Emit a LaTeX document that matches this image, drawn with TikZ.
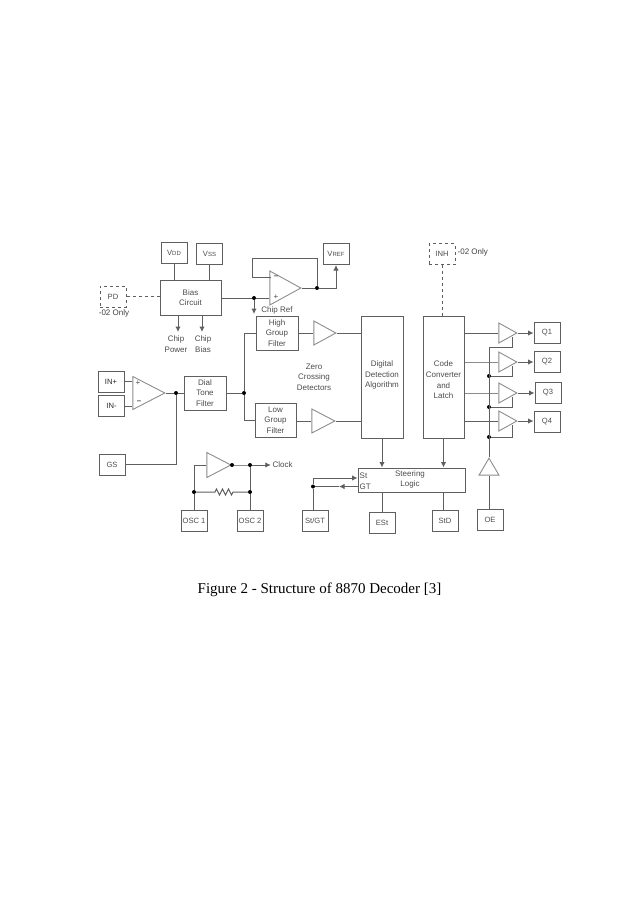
\documentclass[tikz,border=0pt]{standalone}
\usepackage{fontspec}
\setmainfont{Liberation Sans}
\newfontfamily\capfont{Liberation Serif}
\usetikzlibrary{arrows.meta,calc,shapes.geometric}
\definecolor{wiregray}{RGB}{95,95,95}
\definecolor{faintgray}{RGB}{140,140,140}
\definecolor{textgray}{RGB}{75,75,75}
\newcommand{\smalltxt}[1]{{\fontsize{6}{6}\selectfont #1}}

\begin{document}
\begin{tikzpicture}[
      x=1pt, y=-1pt,
      lbl/.style={inner sep=1.5pt, align=center, text=textgray, font=\fontsize{8}{10.7}\selectfont},
      blk/.style={lbl, draw=wiregray, line width=1pt, minimum width=#1, inner sep=0pt},
      pinbox/.style={blk=26pt, minimum height=21pt, font=\fontsize{7.6}{9}\selectfont},
      dashbox/.style={pinbox, dashed},
      amp/.style n args={2}{isosceles triangle, isosceles triangle stretches, draw=faintgray, line width=0.9pt, inner sep=0pt, minimum width=#2, minimum height=#1, anchor=apex},
      wire/.style={draw=wiregray, line width=1pt},
      thinwire/.style={draw=faintgray, line width=0.8pt},
      dashwire/.style={wire, dashed},
      arrowwire/.style={wire, -{Latex[length=5.5pt,width=5.5pt]}},
      jdot/.style={circle, fill=black, inner sep=0pt, minimum size=4pt}
    ]
      \useasboundingbox (0,0) rectangle (638,902);

      % Bias and reference
      \node[pinbox] (vdd) at (174,252.5) {V\smalltxt{DD}};
      \node[pinbox] (vss) at (209.5,253.5) {V\smalltxt{SS}};
      \node[blk=61pt, minimum height=35pt] (bias) at (190.5,297.5) {Bias\\Circuit};
      \node[dashbox] (pd) at (113,296.5) {PD};
      \node[lbl, text=black!75] (pdnote) at (114,313) {-02 Only};
      \node[pinbox] (vref) at (336,254) {V\smalltxt{REF}};
      \node[amp={31pt}{34pt}] (refamp) at (302,288) {};
      \node[lbl, font=\bfseries\fontsize{8}{10}\selectfont] (refminus) at (276,277) {--};
      \node[lbl] (refplus) at (276,297.5) {+};
      \node[lbl] (chipref) at (277,310) {Chip Ref};
      \node[lbl] (chippower) at (176,344) {Chip\\Power};
      \node[lbl] (chipbias) at (203,344) {Chip\\Bias};
      \node[jdot] (jbias) at (254,298) {};
      \node[jdot] (jref) at (317,288) {};
      \coordinate (fbtop) at (252,258);
      \coordinate (fbin) at (271,277);
      \coordinate (chiptip) at (254,314);
      \coordinate (powertip) at (178,332);
      \coordinate (biastip) at (202,332);

      \draw[wire] (vdd.south) -- (vdd.south |- bias.north);
      \draw[wire] (vss.south) -- (vss.south |- bias.north);
      \draw[dashwire] (pd.east) -- (pd.east -| bias.west);
      \draw[wire] (bias.east |- jbias) -- (jbias) -- (jbias -| refamp.lower side);
      \draw[arrowwire] (jbias) -- (chiptip);
      \draw[arrowwire] (powertip |- bias.south) -- (powertip);
      \draw[arrowwire] (biastip |- bias.south) -- (biastip);
      \draw[wire] (fbin) -| (fbtop) -| (jref);
      \draw[wire] (refamp.apex) -- (jref);
      \draw[arrowwire] (jref) -| (vref.south);

      % Input stage
      \node[pinbox, text=black!85] (inp) at (111,381.5) {IN+};
      \node[pinbox, text=black!85] (inm) at (111.5,406) {IN-};
      \node[pinbox] (gs) at (112,464.5) {GS};
      \node[amp={32pt}{33pt}] (inamp) at (166,393) {};
      \node[lbl] (inplus) at (138,383) {+};
      \node[lbl, font=\bfseries\fontsize{8}{10}\selectfont] (inminus) at (139,402.5) {--};
      \node[blk=42pt, minimum height=34pt] (dial) at (205,393) {Dial\\Tone\\Filter};
      \node[jdot] (jin) at (176,393) {};
      \node[jdot] (jdial) at (244,393) {};

      \draw[wire] (inp.east) -- (inp.east -| inamp.lower side);
      \draw[wire] (inm.east) -- (inm.east -| inamp.lower side);
      \draw[wire] (inamp.apex) -- (jin) -- (dial.west);
      \draw[wire] (gs.east) -| (jin);
      \draw[wire] (dial.east) -- (jdial);

      % Filters and detectors
      \node[blk=42pt, minimum height=34pt] (high) at (277,333) {High\\Group\\Filter};
      \node[blk=41pt, minimum height=34pt] (low) at (275.5,420) {Low\\Group\\Filter};
      \node[amp={22pt}{24pt}] (highamp) at (337,333) {};
      \node[amp={23pt}{24pt}] (lowamp) at (336,421) {};
      \node[lbl] (zero) at (314,377) {Zero\\Crossing\\Detectors};
      \node[blk=42pt, minimum height=122pt] (dig) at (382,377) {};
      \node[lbl] (digtxt) at (382,375) {Digital\\Detection\\Algorithm};
      \node[blk=41pt, minimum height=122pt] (code) at (443.5,377) {};
      \node[lbl] (codetxt) at (443.5,380) {Code\\Converter\\and\\Latch};

      \draw[wire] (jdial) |- (high.west);
      \draw[wire] (jdial) |- (low.west);
      \draw[wire] (high.east) -- (highamp.lower side);
      \draw[wire] (low.east |- lowamp.lower side) -- (lowamp.lower side);
      \draw[wire] (highamp.apex) -- (highamp.apex -| dig.west);
      \draw[wire] (lowamp.apex) -- (lowamp.apex -| dig.west);

      % Outputs
      \node[dashbox] (inh) at (442,254) {INH};
      \node[lbl, text=black!75, anchor=west] (inhnote) at (456,252) {-02 Only};
      \node[amp={18pt}{20pt}] (q1amp) at (518,333) {};
      \node[amp={18pt}{20pt}] (q2amp) at (518,362) {};
      \node[amp={18pt}{20pt}] (q3amp) at (518,393) {};
      \node[amp={18pt}{20pt}] (q4amp) at (518,421) {};
      \node[pinbox] (q1) at (547,332.5) {Q1};
      \node[pinbox] (q2) at (547,361.5) {Q2};
      \node[pinbox] (q3) at (548,393) {Q3};
      \node[pinbox] (q4) at (547,421.5) {Q4};
      \node[pinbox] (oe) at (490,519.5) {OE};
      \node[amp={17pt}{20pt}, shape border rotate=90] (oeamp) at (489,457) {};
      \node[jdot] (jq2) at (489,376) {};
      \node[jdot] (jq3) at (489,407) {};
      \node[jdot] (jq4) at (489,437) {};
      \coordinate (busq1) at (489,347);
      \coordinate (enq1) at (512,336.5);
      \coordinate (enq2) at (512,365.5);
      \coordinate (enq3) at (512,396.5);
      \coordinate (enq4) at (512,424.5);

      \draw[dashwire] (inh.south) -- (inh.south |- code.north);
      \draw[wire] (q1amp.lower side -| code.east) -- (q1amp.lower side);
      \draw[thinwire] (q2amp.lower side -| code.east) -- (q2amp.lower side);
      \draw[thinwire] (q3amp.lower side -| code.east) -- (q3amp.lower side);
      \draw[wire] (q4amp.lower side -| code.east) -- (q4amp.lower side);
      \draw[arrowwire] (q1amp.apex) -- (q1amp.apex -| q1.west);
      \draw[arrowwire] (q2amp.apex) -- (q2amp.apex -| q2.west);
      \draw[arrowwire] (q3amp.apex) -- (q3amp.apex -| q3.west);
      \draw[arrowwire] (q4amp.apex) -- (q4amp.apex -| q4.west);
      \draw[wire] (oeamp.apex) -- (busq1) -| (enq1);
      \draw[wire] (jq2) -| (enq2);
      \draw[wire] (jq3) -| (enq3);
      \draw[wire] (jq4) -| (enq4);
      \draw[wire] (oe.north -| oeamp.lower side) -- (oeamp.lower side);

      % Oscillator
      \node[amp={24pt}{25pt}] (oscamp) at (232,465) {};
      \node[pinbox] (osc1) at (194,520.5) {OSC 1};
      \node[pinbox] (osc2) at (250,520.5) {OSC 2};
      \node[lbl] (clock) at (282.5,465) {Clock};
      \node[jdot] (jamp) at (232,465) {};
      \node[jdot] (jclk) at (250,465) {};
      \node[jdot] (jres) at (194,492) {};
      \node[jdot] (jfb) at (250,492) {};

      \draw[wire] (oscamp.lower side) -- (oscamp.lower side -| jres) -- (jres) -- (osc1.north);
      \draw[thinwire] (jamp) -- (jclk);
      \draw[arrowwire] (jclk) -- (clock.west);
      \draw[wire] (jclk) -- (jfb) -- (osc2.north);
      \draw[wire] (jres) -- ++(21,0) -- ++(1.5,-3) -- ++(3,6) -- ++(3,-6) -- ++(3,6) -- ++(3,-6) -- ++(3,6) -- ++(1.5,-3) -- (jfb);

      % Steering
      \node[blk=107pt, minimum height=24pt] (steer) at (411.5,480) {};
      \node[lbl] (steertxt) at (410,479.5) {Steering\\Logic};
      \node[lbl, anchor=west, inner sep=0pt] (sttxt) at (359.5,476) {St};
      \node[lbl, anchor=west, inner sep=0pt] (gttxt) at (359.5,487) {GT};
      \node[pinbox] (sgt) at (315,520.5) {St/GT};
      \node[pinbox] (est) at (382,522.5) {ESt};
      \node[pinbox] (std) at (445,521) {StD};
      \node[jdot] (jsgt) at (313,486.5) {};
      \coordinate (gtmid) at (339,486.5);
      \coordinate (sttop) at (313,478);

      \draw[arrowwire] (dig.south) -- (dig.south |- steer.north);
      \draw[arrowwire] (code.south) -- (code.south |- steer.north);
      \draw[wire] (est.north) -- (est.north |- steer.south);
      \draw[wire] (code.south |- steer.south) -- (code.south |- std.north);
      \draw[wire] (jsgt |- sgt.north) -- (jsgt) -- (sttop);
      \draw[arrowwire] (sttop) -- (sttop -| steer.west);
      \draw[arrowwire] (jsgt -| steer.west) -- (gtmid);
      \draw[wire] (gtmid) -- (jsgt);

      % Caption
      \node[inner sep=0pt, text=black, font=\capfont\fontsize{15}{16}\selectfont] (caption) at (319.5,590) {Figure 2 - Structure of 8870 Decoder [3]};
    \end{tikzpicture}
\end{document}
